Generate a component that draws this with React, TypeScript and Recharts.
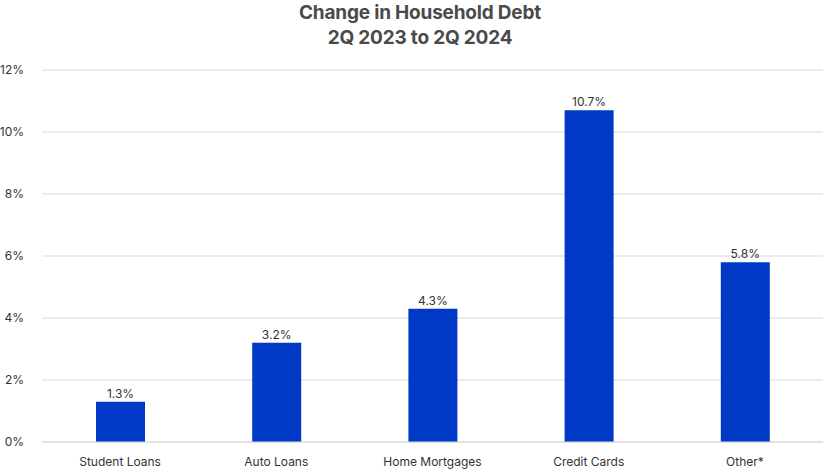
import React from 'react'
import { Bar, BarChart, CartesianGrid, LabelList, XAxis, YAxis } from 'recharts'

const categories = ['Student Loans', 'Auto Loans', 'Home Mortgages', 'Credit Cards', 'Other*']
const changePct = [1.3, 3.2, 4.3, 10.7, 5.8]
const yTicks = [0, 2, 4, 6, 8, 10, 12]

const data = categories.map((name, i) => ({ name, value: changePct[i] }))

const font = 'Inter, "Liberation Sans", Arial, sans-serif'

const App = () => {
  return (
    <div style={{ position: 'relative', width: 840, height: 472, fontFamily: font }}>
      <style>{'body{margin:0}'}</style>
      <div
        style={{
          position: 'absolute',
          top: 0,
          left: 0,
          width: 840,
          textAlign: 'center',
          fontWeight: 700,
          fontSize: 19,
          lineHeight: '25px',
          color: '#4a4a4a',
          letterSpacing: -0.2,
        }}
      >
        Change in Household Debt
        <br />
        2Q 2023 to 2Q 2024
      </div>
      <BarChart
        width={840}
        height={472}
        data={data}
        margin={{ top: 70, right: 17, left: 0, bottom: 0 }}
      >
        <CartesianGrid vertical={false} stroke="#d9d9d9" />
        <XAxis
          dataKey="name"
          interval={0}
          height={30}
          tickLine={false}
          tickMargin={9}
          axisLine={{ stroke: '#d9d9d9' }}
          tick={{ fontSize: 12, fill: '#333', fontFamily: font }}
        />
        <YAxis
          width={42}
          domain={[0, 12]}
          ticks={yTicks}
          tickFormatter={(v) => `${v}%`}
          axisLine={false}
          tickLine={false}
          tickMargin={12}
          tick={{ fontSize: 12, fill: '#333', fontFamily: font }}
        />
        <Bar isAnimationActive={false} dataKey="value" fill="#0039c6" barSize={49}>
          <LabelList
            dataKey="value"
            position="top"
            offset={4}
            formatter={(v) => `${v}%`}
            style={{ fontSize: 12, fill: '#333', fontFamily: font }}
          />
        </Bar>
      </BarChart>
    </div>
  )
}

export default App
